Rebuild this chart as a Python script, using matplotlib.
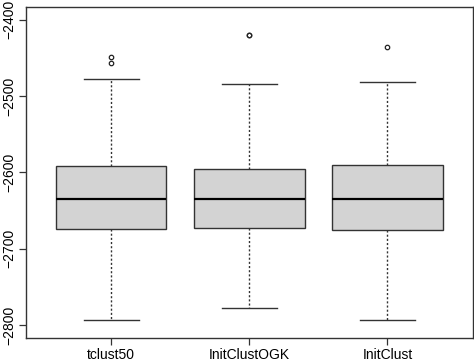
import matplotlib.pyplot as plt

# 三組方法的箱形圖統計量 (由圖估計)
labels = ['tclust50', 'InitClustOGK', 'InitClust']
whisker_low = [-2793, -2777, -2793]
q1 = [-2674, -2673, -2675]
median = [-2635, -2635, -2635]
q3 = [-2591, -2595, -2590]
whisker_high = [-2478, -2484, -2482]
outliers = [[-2449, -2457], [-2420, -2420.5], [-2436]]

yticks = [-2800, -2700, -2600, -2500, -2400]

plt.rcParams['font.family'] = ['Liberation Sans', 'DejaVu Sans']

stats = []
for i in range(len(labels)):
    stats.append({
        'label': labels[i],
        'whislo': whisker_low[i],
        'q1': q1[i],
        'med': median[i],
        'q3': q3[i],
        'whishi': whisker_high[i],
        'fliers': outliers[i],
    })

fig = plt.figure(figsize=(4.74, 3.62), dpi=100)
ax = fig.add_axes([0.054, 0.066, 0.944, 0.915])

ax.bxp(stats, positions=[1, 2, 3], widths=0.8, patch_artist=True,
       boxprops=dict(facecolor='#d3d3d3', edgecolor='#333333', linewidth=1.0),
       medianprops=dict(color='black', linewidth=1.6),
       whiskerprops=dict(color='#333333', linewidth=1.0, linestyle=(0, (1.5, 1.5))),
       capprops=dict(color='#333333', linewidth=1.0),
       capwidths=0.4,
       flierprops=dict(marker='o', markersize=3.2, markerfacecolor='none',
                       markeredgecolor='#222222', markeredgewidth=0.9))

ax.set_xlim(0.38, 3.62)
ax.set_ylim(-2817, -2383)
ax.set_xticks([1, 2, 3])
ax.set_xticklabels(labels, fontsize=10)
ax.set_yticks(yticks)
ax.set_yticklabels([str(t).replace('-', '\u2212') for t in yticks],
                   fontsize=10, rotation=90, va='center')
ax.tick_params(direction='out', length=5, width=0.9, color='#333333', pad=2)
for s in ax.spines.values():
    s.set_color('#333333')
    s.set_linewidth(1.0)

fig.savefig('out.png', dpi=100)
